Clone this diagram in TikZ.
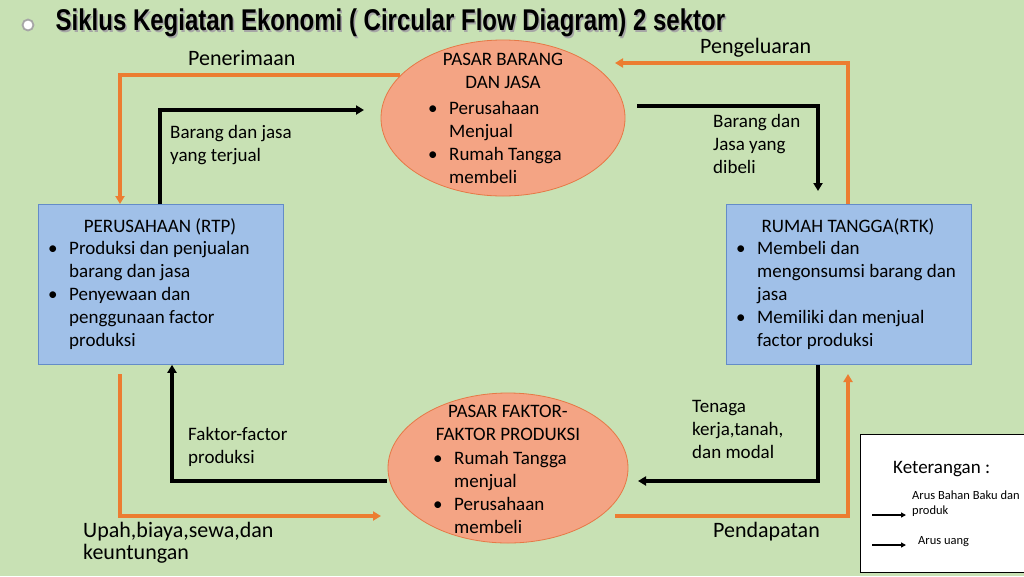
\documentclass[tikz,border=0pt]{standalone}
\usepackage{fontspec}
\setmainfont{Carlito}
\newfontfamily\ttl{Liberation Sans}
\usetikzlibrary{arrows.meta,shapes.geometric}
\definecolor{bg}{RGB}{200,225,180}
\definecolor{org}{RGB}{236,125,49}
\definecolor{salm}{RGB}{244,164,132}
\definecolor{salmd}{RGB}{230,120,70}
\definecolor{bluef}{RGB}{160,192,232}
\definecolor{blued}{RGB}{100,140,200}
\newcommand{\bul}{\makebox[21pt][l]{\textbullet}}
\newcommand{\ind}{\hspace*{21pt}}
\begin{document}
\begin{tikzpicture}[x=1pt,y=-1pt,
  txt/.style={inner sep=0pt,anchor=north west,align=left,font=\fontsize{19}{23}\selectfont},
  ctxt/.style={inner sep=0pt,anchor=north,align=center,font=\fontsize{19}{23}\selectfont},
  ell/.style={ellipse,draw=salmd,fill=salm,line width=0.8pt,inner sep=0pt},
  box/.style={draw=blued,fill=bluef,line width=0.8pt,minimum width=245pt,minimum height=160pt,inner sep=0pt},
  oa/.style={draw=org,line width=3.2pt,-{Triangle[length=8pt,width=9pt]}},
  ba/.style={draw=black,line width=3.2pt,-{Triangle[length=8pt,width=9pt]}},
  la/.style={draw=black,line width=1.3pt,-{Triangle[length=5pt,width=5pt]}}]
\useasboundingbox (0,0) rectangle (1024,576);
\fill[bg] (0,0) rectangle (1024,576);
% title
\node[draw=gray!70,fill=white,circle,inner sep=0pt,minimum size=11pt,line width=1.8pt] (bt) at (28,25) {};
\node[anchor=west,inner sep=0pt,text=gray!70,font=\ttl\bfseries\fontsize{30}{32}\selectfont,xscale=0.8] (tts) at (57,24.5) {Siklus Kegiatan Ekonomi ( Circular Flow Diagram) 2 sektor};
\node[anchor=west,inner sep=0pt,text=black,font=\ttl\bfseries\fontsize{30}{32}\selectfont,xscale=0.8] (tt) at (55.5,23) {Siklus Kegiatan Ekonomi ( Circular Flow Diagram) 2 sektor};
% shapes
\node[ell,minimum width=244pt,minimum height=156pt] (pb) at (503,118) {};
\node[ell,minimum width=240pt,minimum height=150pt] (pf) at (508,468) {};
\node[box,anchor=north west] (rtp) at (38,204) {};
\node[box,anchor=north west] (rtk) at (726,204) {};
\node[draw=black,fill=white,line width=0.8pt,anchor=north west,minimum width=166pt,minimum height=138pt,inner sep=0pt] (leg) at (860,434) {};
% ellipse texts
\node[ctxt] (pbt) at (503,53) {PASAR BARANG\\DAN JASA};
\node[txt] (pbl) at (428,101) {\bul Perusahaan\\\ind Menjual\\\bul Rumah Tangga\\\ind membeli};
\node[ctxt] (pft) at (508,405) {PASAR FAKTOR-\\FAKTOR PRODUKSI};
\node[txt] (pfl) at (433,451) {\bul Rumah Tangga\\\ind menjual\\\bul Perusahaan\\\ind membeli};
% box texts
\node[ctxt] (rtpt) at (160,218) {PERUSAHAAN (RTP)};
\node[txt] (rtpl) at (48,241) {\bul Produksi dan penjualan\\\ind barang dan jasa\\\bul Penyewaan dan\\\ind penggunaan factor\\\ind produksi};
\node[ctxt] (rtkt) at (848,218) {RUMAH TANGGA(RTK)};
\node[txt] (rtkl) at (736,241) {\bul Membeli dan\\\ind mengonsumsi barang dan\\\ind jasa\\\bul Memiliki dan menjual\\\ind factor produksi};
% arrow labels
\node[txt,font=\fontsize{22}{22}\selectfont] (l1) at (188,50) {Penerimaan};
\node[txt,font=\fontsize{22}{22}\selectfont] (l2) at (700,38) {Pengeluaran};
\node[txt] (l3) at (170,125) {Barang dan jasa\\yang terjual};
\node[txt] (l4) at (713,114) {Barang dan\\Jasa yang\\dibeli};
\node[txt] (l5) at (692,400) {Tenaga\\kerja,tanah,\\dan modal};
\node[txt] (l6) at (188,427) {Faktor-factor\\produksi};
\node[txt,font=\fontsize{22}{22}\selectfont] (l7) at (83,522) {Upah,biaya,sewa,dan\\keuntungan};
\node[txt,font=\fontsize{22}{22}\selectfont] (l8) at (713,522) {Pendapatan};
% legend texts
\node[txt,font=\fontsize{19}{20}\selectfont] (k) at (893,461) {Keterangan :};
\node[txt,font=\fontsize{12.5}{15}\selectfont] (k1) at (912,491) {Arus Bahan Baku dan\\produk};
\node[txt,font=\fontsize{12.5}{15}\selectfont] (k2) at (918,536) {Arus uang};
\coordinate (ka1) at (872,515); \coordinate (kb1) at (906,515);
\coordinate (ka2) at (872,545); \coordinate (kb2) at (906,545);
\draw[la] (ka1) -- (kb1);
\draw[la] (ka2) -- (kb2);
% connectors
\coordinate (o1s) at (400,75); \coordinate (o2e) at (615,63);
\coordinate (o3e) at (381,516); \coordinate (o4s) at (615,516);
\draw[oa] (o1s) -- (120,75) -- (rtp.north -| 120,0);
\draw[oa] (rtk.north -| 848,0) -- (848,63) -- (o2e);
\draw[oa] (120,374) -- (120,516) -- (o3e);
\draw[oa] (o4s) -- (848,516) -- (848,374);
\coordinate (b1e) at (364,110); \coordinate (b2s) at (637,106);
\coordinate (b3e) at (638,481); \coordinate (b4s) at (387,481);
\draw[ba] (rtp.north -| 160,0) -- (160,110) -- (b1e);
\draw[ba] (b2s) -- (818,106) -- (818,191);
\draw[ba] (rtk.south -| 818,0) -- (818,481) -- (b3e);
\draw[ba] (b4s) -- (172,481) -- (rtp.south -| 172,0);
\end{tikzpicture}
\end{document}
